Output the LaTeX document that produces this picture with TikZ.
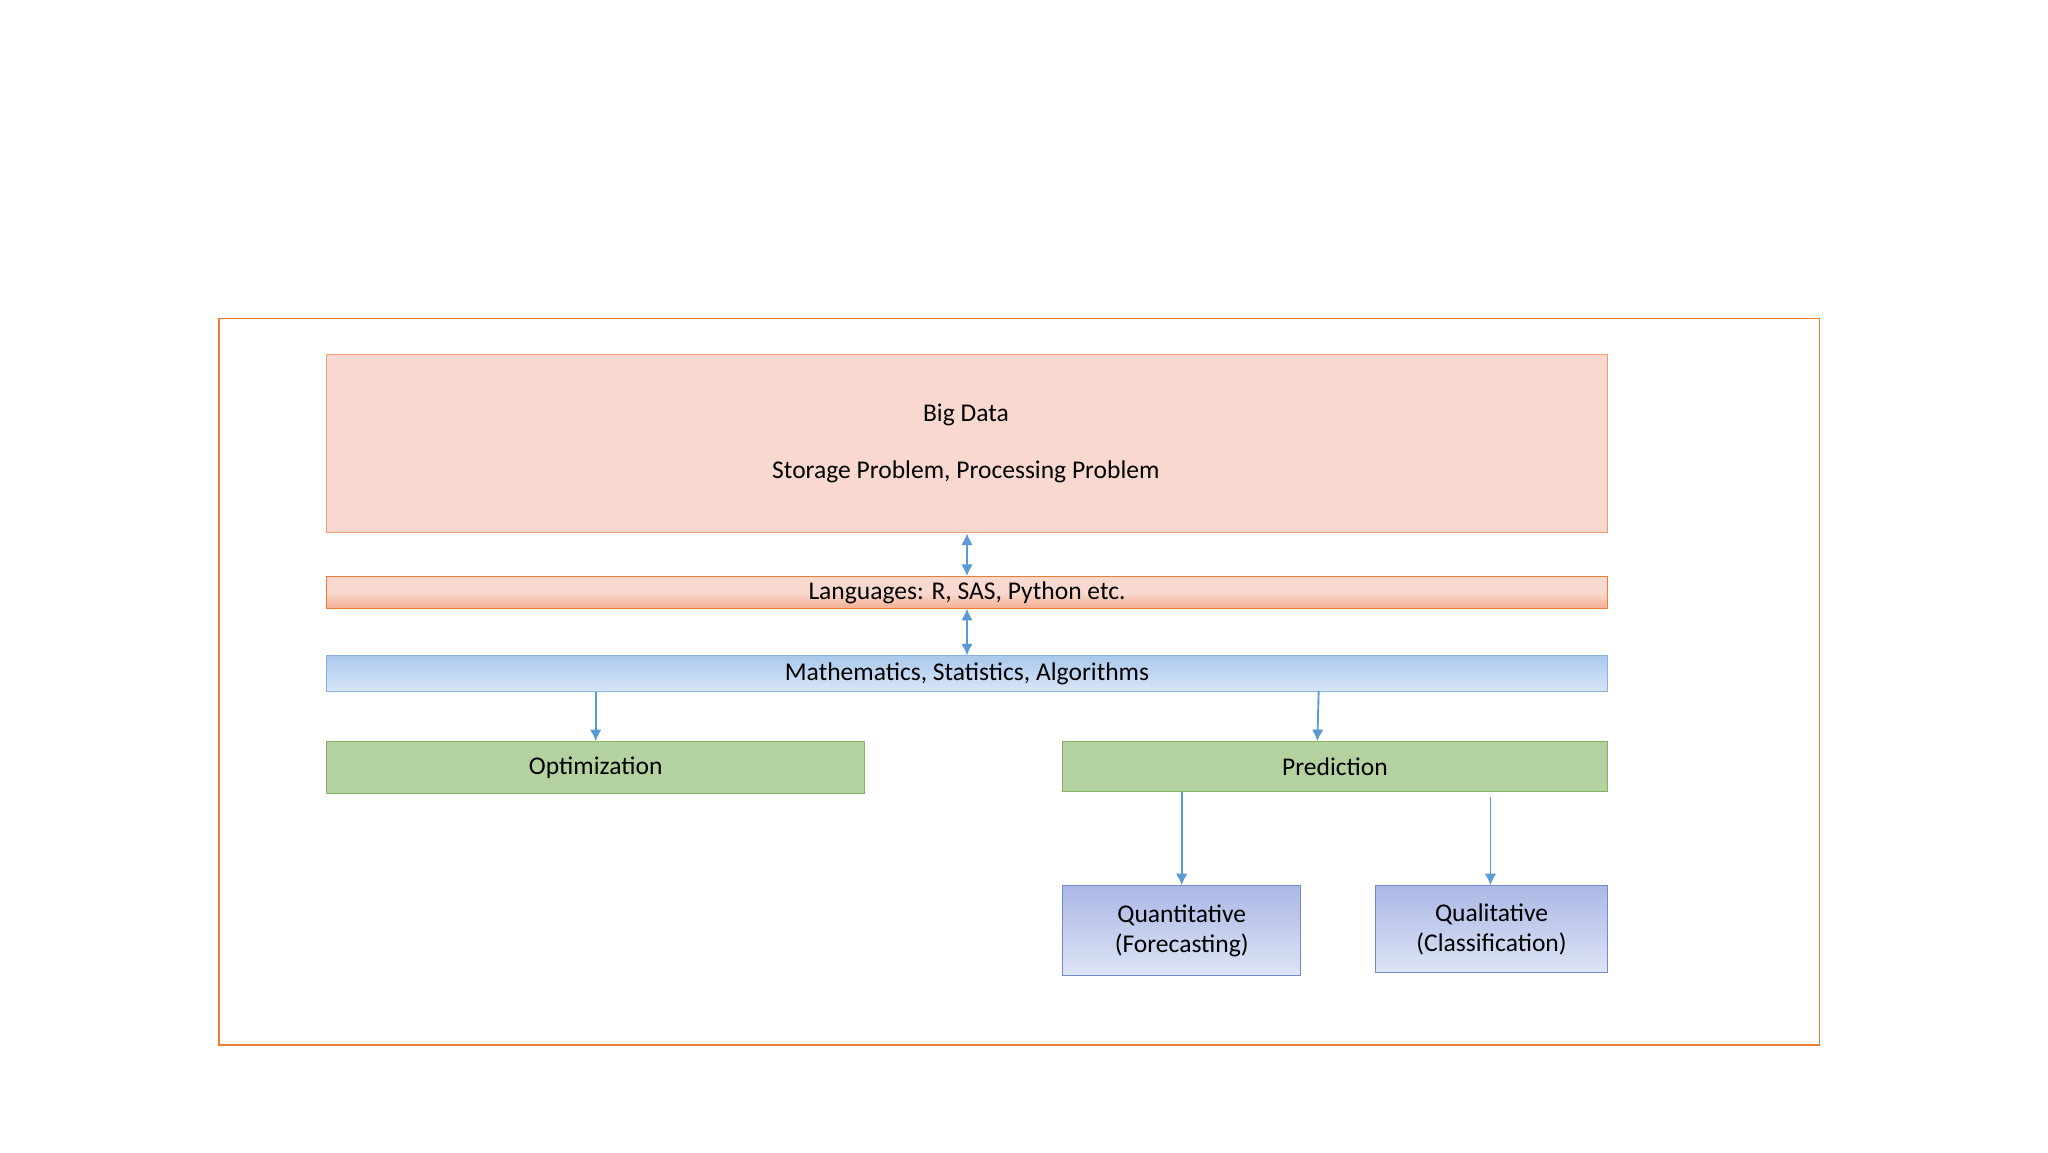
\documentclass[tikz,border=0pt]{standalone}
\usepackage{fontspec}
\setmainfont{Carlito}
\usetikzlibrary{arrows.meta,positioning}
\definecolor{frameor}{RGB}{237,125,49}
\definecolor{pinkfill}{RGB}{249,217,207}
\definecolor{pinkline}{RGB}{241,156,120}
\definecolor{bluetop}{RGB}{170,200,236}
\definecolor{bluebot}{RGB}{216,230,248}
\definecolor{blueline}{RGB}{140,175,220}
\definecolor{greenfill}{RGB}{180,210,160}
\definecolor{greenline}{RGB}{130,180,100}
\definecolor{purptop}{RGB}{170,184,228}
\definecolor{purpbot}{RGB}{222,228,246}
\definecolor{purpline}{RGB}{110,140,205}
\definecolor{arrblue}{RGB}{91,155,213}
\tikzset{
  box/.style={draw, anchor=north west, inner sep=0pt, font=\fontsize{11}{13}\selectfont, align=center},
  arr/.style={draw=arrblue, thick, -{Latex[length=5pt,width=5pt]}},
  darr/.style={draw=arrblue, thick, {Latex[length=5pt,width=5pt]}-{Latex[length=5pt,width=5pt]}}
}
\begin{document}
\begin{tikzpicture}[x=0.02cm,y=-0.02cm]
\useasboundingbox (0,0) rectangle (1550,872);
\draw[frameor, thick] (166,241) rectangle (1377,791);

\node[box, draw=pinkline, fill=pinkfill, minimum width=969*0.02cm, minimum height=135*0.02cm] (big) at (247,268) {};
\node[font=\fontsize{11}{13}\selectfont] (bigt) at (731,314) {Big Data};
\node[font=\fontsize{11}{13}\selectfont] (bigs) at (731,357) {Storage Problem, Processing Problem};
\node[box, draw=frameor, top color=pinkfill, bottom color=pinkline!80, middle color=pinkfill, minimum width=969*0.02cm, minimum height=24*0.02cm] (lang) at (247,436) {Languages: R, SAS, Python etc.};
\node[box, draw=blueline, top color=bluetop, bottom color=bluebot, minimum width=969*0.02cm, minimum height=27*0.02cm] (math) at (247,496) {Mathematics, Statistics, Algorithms};
\node[box, draw=greenline, fill=greenfill, minimum width=407*0.02cm, minimum height=39*0.02cm] (opt) at (247,561) {Optimization};
\node[box, draw=greenline, fill=greenfill, minimum width=412*0.02cm, minimum height=38*0.02cm] (pred) at (804,561) {Prediction};
\node[box, draw=purpline, top color=purptop, bottom color=purpbot, minimum width=180*0.02cm, minimum height=68*0.02cm] (quant) at (804,670) {Quantitative\\(Forecasting)};
\node[box, draw=purpline, top color=purptop, bottom color=purpbot, minimum width=175*0.02cm, minimum height=66*0.02cm] (qual) at (1041,670) {Qualitative\\(Classification)};

\coordinate (m1) at (998,523);
\coordinate (p1) at (997,561);
\coordinate (q1) at (1128,603);

\draw[darr] (big.south) -- (lang.north);
\draw[darr] (lang.south) -- (math.north);
\draw[arr] (math.south -| opt.north) -- (opt.north);
\draw[arr] (m1) -- (p1);
\draw[arr] (pred.south -| quant.north) -- (quant.north);
\draw[arr] (q1) -- (q1 |- qual.north);
\end{tikzpicture}
\end{document}
